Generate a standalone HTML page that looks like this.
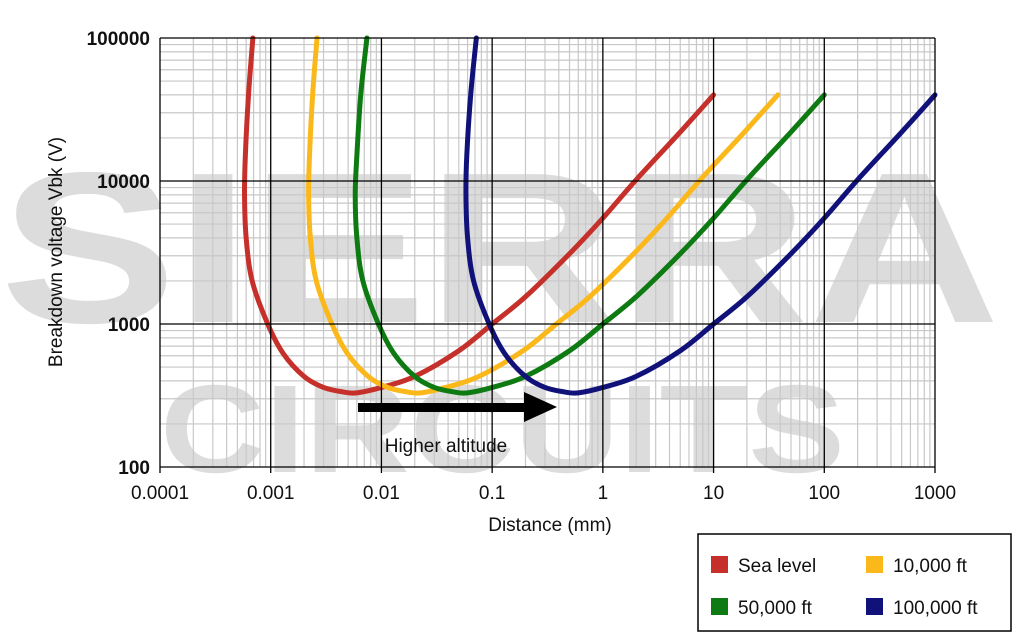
<!DOCTYPE html>
<html><head><meta charset="utf-8"><style>
body{margin:0;background:#fff;width:1024px;height:640px;overflow:hidden;font-family:"Liberation Sans",sans-serif}
</style></head><body>
<svg id="chart" width="1024" height="640" style="position:absolute;left:0;top:0">
<g id="wm" fill="#dcdcdc" font-family="Liberation Sans" font-weight="bold">
<text x="0" y="322" font-size="215" textLength="1000" lengthAdjust="spacingAndGlyphs">SIERRA</text>
<text x="160" y="472" font-size="125" textLength="685" lengthAdjust="spacingAndGlyphs">CIRCUITS</text>
</g>
<g id="grid"></g>
<g id="curves"></g>
<g id="axes"></g>
<g>
<rect x="358" y="403" width="170" height="9" fill="#000"/>
<polygon points="524,392 557,407 524,422" fill="#000"/>
<text x="446" y="452" font-size="19" text-anchor="middle" fill="#111">Higher altitude</text>
</g>
<text x="550" y="531" font-size="19" text-anchor="middle" fill="#111">Distance (mm)</text>
<text transform="translate(62,252) rotate(-90)" font-size="19" text-anchor="middle" fill="#111">Breakdown voltage Vbk (V)</text>
<g>
<rect x="698" y="534" width="313" height="97" fill="#fff" stroke="#000" stroke-width="1.5"/>
<g><rect x="711" y="556" width="17" height="17" fill="#c5302a"/><text x="738" y="572" font-size="19" fill="#111">Sea level</text></g>
<g><rect x="866" y="556" width="17" height="17" fill="#fbb81b"/><text x="893" y="572" font-size="19" fill="#111">10,000 ft</text></g>
<g><rect x="711" y="598" width="17" height="17" fill="#0e7a12"/><text x="738" y="614" font-size="19" fill="#111">50,000 ft</text></g>
<g><rect x="866" y="598" width="17" height="17" fill="#10127a"/><text x="893" y="614" font-size="19" fill="#111">100,000 ft</text></g>
</g>
</svg>
<script>
const xTicks=[0.0001,0.001,0.01,0.1,1,10,100,1000];
const xTickLabels=["0.0001","0.001","0.01","0.1","1","10","100","1000"];
const yTicks=[100,1000,10000,100000];
const yTickLabels=["100","1000","10000","100000"];
const seriesNames=["sea-level","10000-ft","50000-ft","100000-ft"];
const seriesColors=["#c5302a","#fbb81b","#0e7a12","#10127a"];
const seaD=[0.00069,0.00063,0.00059,0.00058,0.0006,0.00068,0.00094,0.0013,0.002,0.003,0.0045,0.006,0.01,0.02,0.05,0.1,0.2,0.5,1,2,5,10];
const seaV=[100000,40000,15000,8000,4000,2000,1000,620,430,360,335,330,360,430,650,1000,1550,3100,5500,10200,22000,40000];
const ft10kD=[0.00262,0.00239,0.00224,0.0022,0.00228,0.00258,0.00357,0.00494,0.0076,0.0114,0.0171,0.0228,0.038,0.076,0.19,0.38,0.76,1.9,3.8,7.6,19,38];
const ft10kV=[100000,40000,15000,8000,4000,2000,1000,620,430,360,335,330,360,430,650,1000,1550,3100,5500,10200,22000,40000];
const ft50kD=[0.0074,0.0065,0.006,0.0058,0.006,0.0068,0.0094,0.013,0.02,0.03,0.045,0.06,0.1,0.2,0.5,1,2,5,10,20,50,100];
const ft50kV=[100000,40000,15000,8000,4000,2000,1000,620,430,360,335,330,360,430,650,1000,1550,3100,5500,10200,22000,40000];
const ft100kD=[0.072,0.064,0.059,0.058,0.06,0.068,0.094,0.13,0.2,0.3,0.45,0.6,1,2,5,10,20,50,100,200,500,1000];
const ft100kV=[100000,40000,15000,8000,4000,2000,1000,620,430,360,335,330,360,430,650,1000,1550,3100,5500,10200,22000,40000];
const seriesD=[seaD,ft10kD,ft50kD,ft100kD];
const seriesV=[seaV,ft10kV,ft50kV,ft100kV];

const X0=160,X1=935,Y0=467,Y1=38;
const xs=d=>X0+(Math.log10(d)+4)/7*(X1-X0);
const ys=v=>Y0-(Math.log10(v)-2)/3*(Y0-Y1);
const NS="http://www.w3.org/2000/svg";
function mk(tag,attrs,parent){const e=document.createElementNS(NS,tag);for(const k in attrs)e.setAttribute(k,attrs[k]);parent.appendChild(e);return e;}
const grid=document.getElementById('grid'),axes=document.getElementById('axes'),curves=document.getElementById('curves');
for(let i=0;i<xTicks.length-1;i++)for(let m=2;m<=9;m++){const x=xs(xTicks[i]*m);
const l=mk('line',{x1:x,x2:x,y1:Y1,y2:Y0,stroke:'#c8c8c8','stroke-width':1.2},grid);

}
for(let i=0;i<yTicks.length-1;i++)for(let m=2;m<=9;m++){const y=ys(yTicks[i]*m);
const l=mk('line',{x1:X0,x2:X1,y1:y,y2:y,stroke:'#c8c8c8','stroke-width':1.2},grid);

}
xTicks.forEach((t,i)=>{const x=xs(t);
const l=mk('line',{x1:x,x2:x,y1:Y1,y2:Y0+6,stroke:'#000','stroke-width':1.3},axes);


const tx=mk('text',{x:x,y:499,'font-size':19,'text-anchor':'middle',fill:'#111'},axes);tx.textContent=xTickLabels[i];

});
yTicks.forEach((t,i)=>{const y=ys(t);
const l=mk('line',{x1:X0,x2:X1,y1:y,y2:y,stroke:'#000','stroke-width':1.3},axes);


const tx=mk('text',{x:150,y:y+7,'font-size':19,'text-anchor':'end',fill:'#111','font-weight':'bold'},axes);tx.textContent=yTickLabels[i];

});
seriesD.forEach((D,s)=>{const V=seriesV[s];const P=D.map((d,i)=>[xs(d),ys(V[i])]);
let p='M'+P[0][0]+','+P[0][1];
for(let i=0;i<P.length-1;i++){const a=P[Math.max(0,i-1)],b=P[i],c=P[i+1],e=P[Math.min(P.length-1,i+2)];
p+=` C${b[0]+(c[0]-a[0])/6},${b[1]+(c[1]-a[1])/6} ${c[0]-(e[0]-b[0])/6},${c[1]-(e[1]-b[1])/6} ${c[0]},${c[1]}`;}
const path=mk('path',{d:p,fill:'none',stroke:seriesColors[s],'stroke-width':5,'stroke-linecap':'round','stroke-linejoin':'round'},curves);

});
</script>
</body></html>
